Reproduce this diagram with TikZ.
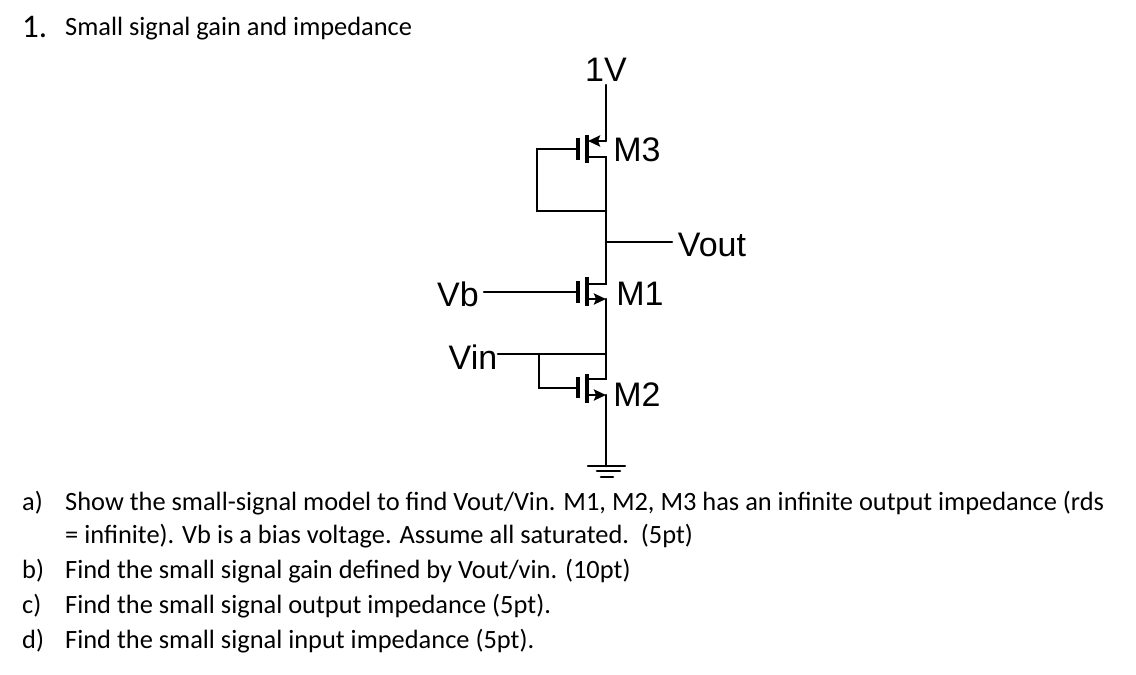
\documentclass[tikz,border=0pt]{standalone}
\usepackage{fontspec}
\setmainfont{Carlito}
\newfontfamily\labelfont{Liberation Sans}
\usetikzlibrary{arrows.meta}
\usetikzlibrary{positioning}
\begin{document}
\begin{tikzpicture}[x=1pt,y=-1pt,
    txt/.style={anchor=base west,inner sep=0pt,font=\fontsize{26.4}{30}\selectfont},
    lab/.style={inner sep=0pt,font=\labelfont\fontsize{34}{38}\selectfont},
    wire/.style={line width=2.6pt,line cap=round},
    bar/.style={line width=3.6pt},
    tip/.style={-{Stealth[length=12pt,width=11pt,inset=2pt]},line width=2.6pt}]
    \useasboundingbox (0,0) rectangle (1136,675);

    % question text
    \node[txt,font=\fontsize{33}{36}\selectfont] (num) at (22,37) {1.};
    \node[txt] (title) at (65,35) {Small signal gain and impedance};
    \node[txt] (qa) at (22,510) {a)};
    \node[txt] (ta) at (65,510) {Show the small-signal model to find Vout/Vin. M1, M2, M3 has an infinite output impedance (rds};
    \node[txt] (ta2) at (65,543) {= infinite). Vb is a bias voltage. Assume all saturated.\ \ (5pt)};
    \node[txt] (qb) at (22,578) {b)};
    \node[txt] (tb) at (65,578) {Find the small signal gain defined by Vout/vin. (10pt)};
    \node[txt] (qc) at (22,613) {c)};
    \node[txt] (tc) at (65,613) {Find the small signal output impedance (5pt).};
    \node[txt] (qd) at (22,648) {d)};
    \node[txt] (td) at (65,648) {Find the small signal input impedance (5pt).};

    % circuit labels
    \node[lab] (vdd) at (606,70) {1V};
    \node[lab] (m3) at (637,150) {M3};
    \node[lab] (vout) at (712,245) {Vout};
    \node[lab] (vb) at (458,294) {Vb};
    \node[lab] (m1) at (640,294) {M1};
    \node[lab] (vin) at (473,357) {Vin};
    \node[lab] (m2) at (637,395) {M2};

    % junctions
    \coordinate (top) at (606,85);
    \coordinate (s3) at (606,141);
    \coordinate (s3i) at (588,141);
    \coordinate (d3) at (606,157);
    \coordinate (d3i) at (587,157);
    \coordinate (g3) at (578,149);
    \coordinate (l3a) at (537,149);
    \coordinate (l3b) at (537,211);
    \coordinate (l3c) at (606,211);
    \coordinate (nout) at (606,242);
    \coordinate (voutend) at (672,242);
    \coordinate (d1) at (606,284);
    \coordinate (d1i) at (587,284);
    \coordinate (s1) at (606,299);
    \coordinate (s1i) at (587,299);
    \coordinate (g1) at (578,292);
    \coordinate (vbend) at (484,292);
    \coordinate (nin) at (606,354);
    \coordinate (vinend) at (498,354);
    \coordinate (br) at (539,354);
    \coordinate (brb) at (539,388);
    \coordinate (g2) at (578,388);
    \coordinate (d2) at (606,379);
    \coordinate (d2i) at (587,379);
    \coordinate (s2) at (606,395);
    \coordinate (s2i) at (587,395);
    \coordinate (gnd) at (606,466);

    % M3
    \draw[wire] (top) -- (s3);
    \draw[tip] (s3) -- (s3i);
    \draw[bar] (587,135) -- (587,163);
    \draw[bar] (g3 |- 0,138) -- (g3 |- 0,160);
    \draw[wire] (d3i) -- (d3) -- (l3c);
    \draw[wire] (g3) -- (l3a) -- (l3b) -- (l3c);

    % M1
    \draw[wire] (l3c) -- (nout) -- (d1) -- (d1i);
    \draw[wire] (nout) -- (voutend);
    \draw[bar] (587,277) -- (587,306);
    \draw[bar] (g1 |- 0,281) -- (g1 |- 0,303);
    \draw[wire] (vbend) -- (g1);
    \draw[tip] (s1i) -- (s1);
    \draw[wire] (s1) -- (nin);

    % M2
    \draw[wire] (vinend) -- (nin) -- (d2) -- (d2i);
    \draw[wire] (br) -- (brb) -- (g2);
    \draw[bar] (587,374) -- (587,403);
    \draw[bar] (g2 |- 0,377) -- (g2 |- 0,398);
    \draw[tip] (s2i) -- (s2);
    \draw[wire] (s2) -- (gnd);

    % ground
    \draw[wire] (588,466) -- (625,466);
    \draw[wire] (597,471) -- (620,471);
    \draw[wire] (601,477) -- (613,477);
\end{tikzpicture}
\end{document}
